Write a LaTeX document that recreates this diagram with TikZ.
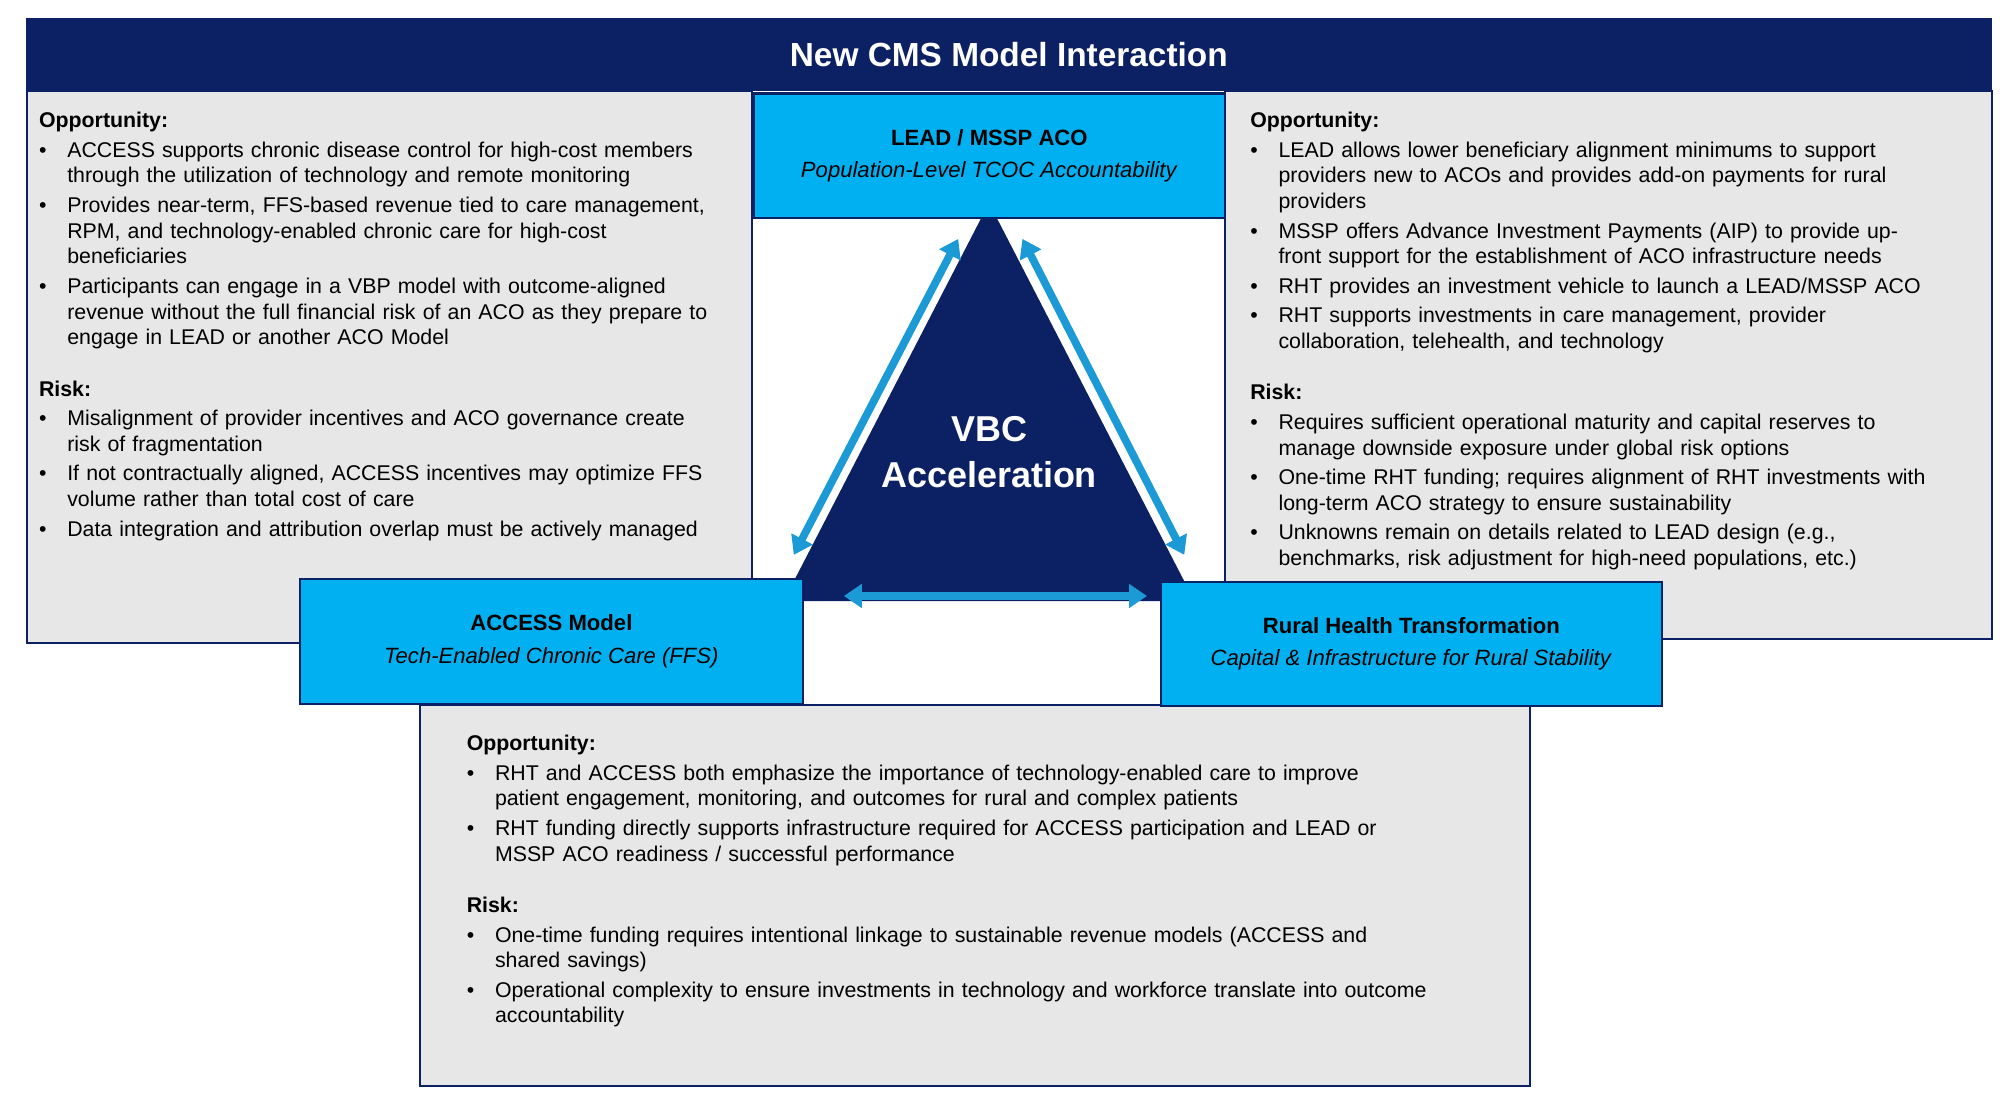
\documentclass[tikz,border=0pt]{standalone}
\usepackage{fontspec}
\setmainfont{Liberation Sans}
\usetikzlibrary{arrows.meta}
\definecolor{navy}{HTML}{0C2163}
\definecolor{cyanb}{HTML}{00B0F0}
\definecolor{grayf}{HTML}{E7E7E7}
\definecolor{arr}{HTML}{1C9AD6}
\newcommand{\bul}[1]{\par\vspace{1.5pt}\hangindent=11pt\hangafter=1\noindent\makebox[11pt][l]{\textbullet}#1\par}
\newcommand{\hd}[1]{\par\noindent\textbf{#1}\par}
\begin{document}
\begin{tikzpicture}[x=0.5pt,y=-0.5pt,
  gbox/.style={draw=navy,fill=grayf,line width=0.8pt},
  cbox/.style={draw=navy,fill=cyanb,line width=0.8pt,inner sep=0pt},
  txt/.style={anchor=north west,inner sep=0pt,align=left,text width=#1,font=\fontsize{8.3pt}{10pt}\selectfont},
  ttl/.style={align=center,font=\fontsize{8.6pt}{12.5pt}\selectfont},
  dbl/.style={arr,line width=3pt,{Triangle[length=7pt,width=9pt]}-{Triangle[length=7pt,width=9pt]}}]
\useasboundingbox (0,0) rectangle (1568,857);
\fill[white] (0,0) rectangle (1568,857);
% gray boxes (sizes in pt = px/2)
\node[gbox,minimum width=282.5pt,minimum height=215pt,anchor=north west] (lb) at (20,70) {};
\node[gbox,minimum width=298.5pt,minimum height=213.5pt,anchor=north west] (rb) at (953,70) {};
\node[gbox,minimum width=432pt,minimum height=148.5pt,anchor=north west] (bb) at (326,548) {};
% title
\node[fill=navy,draw=navy,minimum width=765pt,minimum height=28pt,anchor=north west,inner sep=0] (title) at (20,14) {};
\node[text=white,font=\bfseries\fontsize{13pt}{15pt}\selectfont] at (title.center) {New CMS Model Interaction};
% triangle
\fill[navy,rounded corners=4pt] (770,158) -- (930,468) -- (610,468) -- cycle;
\node[text=white,align=center,font=\bfseries\fontsize{14pt}{18pt}\selectfont] (vbc) at (770,352) {VBC\\Acceleration};
% arrows
\coordinate (a1) at (746,186); \coordinate (a2) at (618,432);
\coordinate (b1) at (796,186); \coordinate (b2) at (922,432);
\coordinate (c1) at (657,464); \coordinate (c2) at (893,464);
\draw[dbl] (a1) -- (a2);
\draw[dbl] (b1) -- (b2);
\draw[dbl] (c1) -- (c2);
% cyan boxes
\node[cbox,minimum width=183.5pt,minimum height=48.5pt,anchor=north west] (lead) at (586,72) {};
\node[ttl] at (lead.center) {\textbf{LEAD / MSSP ACO}\\\textit{Population-Level TCOC Accountability}};
\node[cbox,minimum width=195.5pt,minimum height=48.5pt,anchor=north west] (acc) at (233,450) {};
\node[ttl] at (acc.center) {\textbf{ACCESS Model}\\\textit{Tech-Enabled Chronic Care (FFS)}};
\node[cbox,minimum width=195pt,minimum height=48.5pt,anchor=north west] (rht) at (903,452) {};
\node[ttl] at (rht.center) {\textbf{Rural Health Transformation}\\\textit{Capital \& Infrastructure for Rural Stability}};
% texts
\node[txt=300pt] (lt) at (30,79) {\hd{Opportunity:}
\bul{ACCESS supports chronic disease control for high-cost members\newline through the utilization of technology and remote monitoring}
\bul{Provides near-term, FFS-based revenue tied to care management,\newline RPM, and technology-enabled chronic care for high-cost\newline beneficiaries}
\bul{Participants can engage in a VBP model with outcome-aligned\newline revenue without the full financial risk of an ACO as they prepare to\newline engage in LEAD or another ACO Model}
\vspace{10pt}\hd{Risk:}
\bul{Misalignment of provider incentives and ACO governance create\newline risk of fragmentation}
\bul{If not contractually aligned, ACCESS incentives may optimize FFS\newline volume rather than total cost of care}
\bul{Data integration and attribution overlap must be actively managed}};
\node[txt=300pt] (rt) at (973,79) {\hd{Opportunity:}
\bul{LEAD allows lower beneficiary alignment minimums to support\newline providers new to ACOs and provides add-on payments for rural\newline providers}
\bul{MSSP offers Advance Investment Payments (AIP) to provide up-\newline front support for the establishment of ACO infrastructure needs}
\bul{RHT provides an investment vehicle to launch a LEAD/MSSP ACO}
\bul{RHT supports investments in care management, provider\newline collaboration, telehealth, and technology}
\vspace{10pt}\hd{Risk:}
\bul{Requires sufficient operational maturity and capital reserves to\newline manage downside exposure under global risk options}
\bul{One-time RHT funding; requires alignment of RHT investments with\newline long-term ACO strategy to ensure sustainability}
\bul{Unknowns remain on details related to LEAD design (e.g.,\newline benchmarks, risk adjustment for high-need populations, etc.)}};
\node[txt=440pt] (bt) at (363,564) {\hd{Opportunity:}
\bul{RHT and ACCESS both emphasize the importance of technology-enabled care to improve\newline patient engagement, monitoring, and outcomes for rural and complex patients}
\bul{RHT funding directly supports infrastructure required for ACCESS participation and LEAD or\newline MSSP ACO readiness / successful performance}
\vspace{10pt}\hd{Risk:}
\bul{One-time funding requires intentional linkage to sustainable revenue models (ACCESS and\newline shared savings)}
\bul{Operational complexity to ensure investments in technology and workforce translate into outcome\newline accountability}};
\end{tikzpicture}
\end{document}
